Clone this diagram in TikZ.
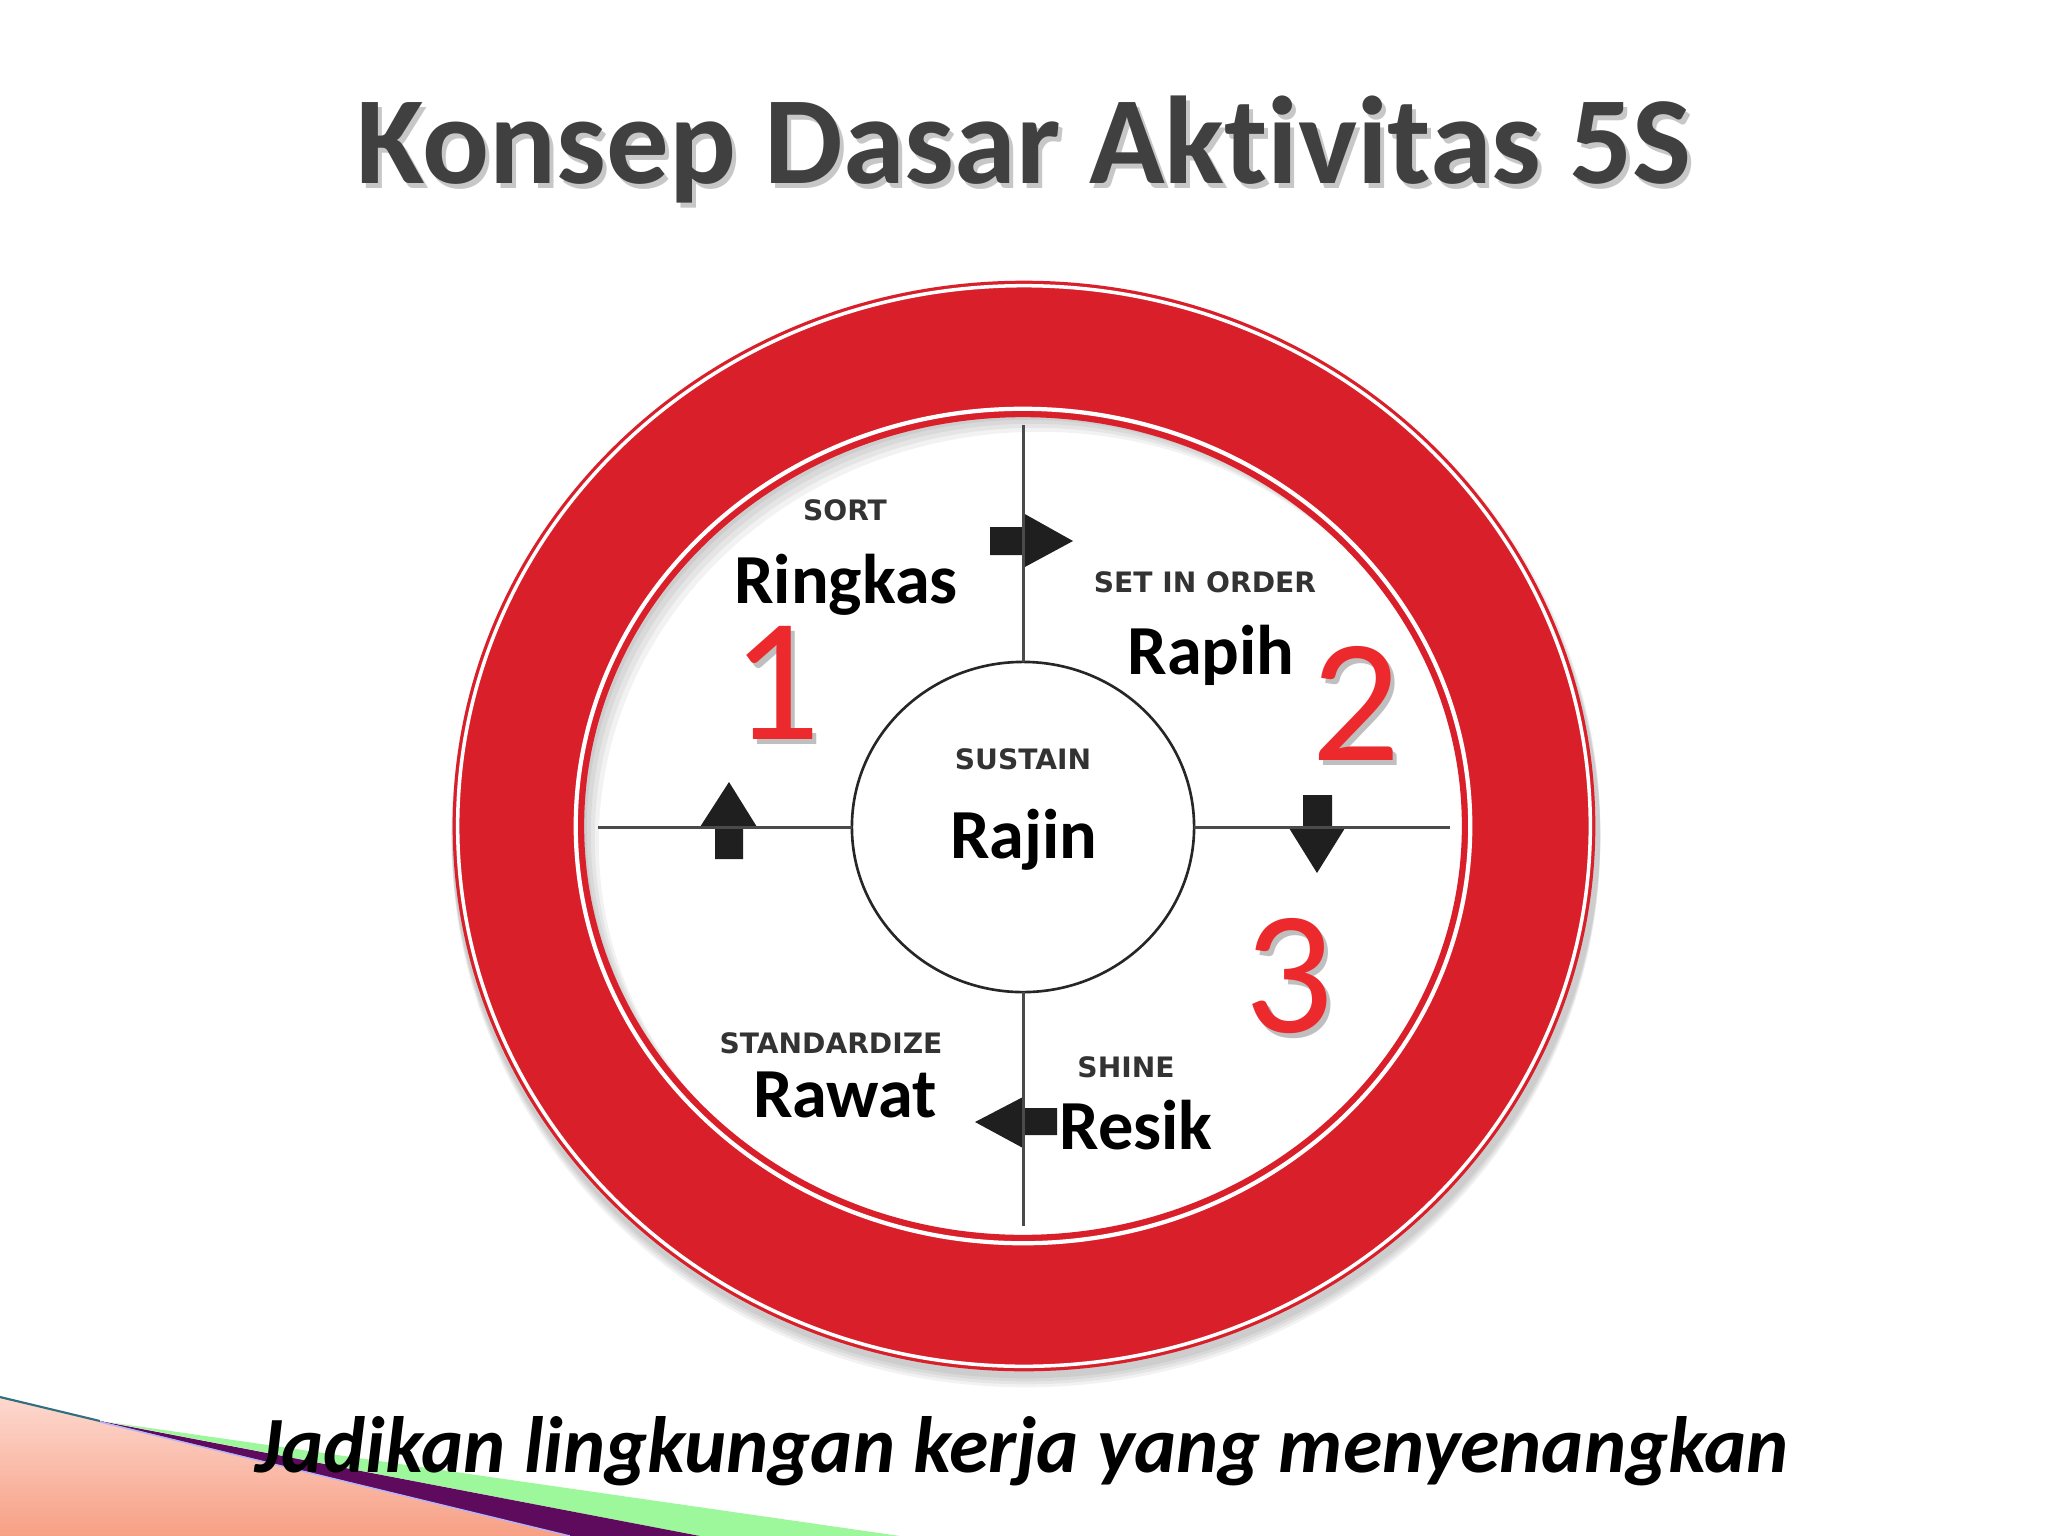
\documentclass[tikz,border=0pt]{standalone}
\usepackage{fontspec}
\setmainfont{Carlito}[Ligatures=NoCommon]
\newfontfamily\tagfont{DejaVu Sans}
\usetikzlibrary{shapes.geometric}
\definecolor{ringred}{HTML}{D91F29}
\definecolor{numred}{HTML}{EC2A2E}
\definecolor{titlegray}{HTML}{404040}
\definecolor{spokegray}{HTML}{4A4A4A}
\definecolor{bandpurple}{HTML}{5E0B5E}
\definecolor{bandgreen}{HTML}{9CF89A}
\definecolor{tealline}{HTML}{2F6F80}
\definecolor{salmonlight}{HTML}{FDD8CE}
\definecolor{salmondark}{HTML}{F7A085}

\begin{document}
\begin{tikzpicture}[x=0.01cm, y=-0.01cm,
  every node/.style = {inner sep=0pt, outer sep=0pt},
  title/.style      = {font=\fontsize{35.5}{42}\selectfont\bfseries,
    anchor=base},
  tag/.style        = {font=\tagfont\bfseries\fontsize{8}{9}\selectfont,
    text=black!80, anchor=base},
  word/.style       = {font=\fontsize{20}{24}\selectfont\bfseries,
    anchor=base},
  digit/.style      = {font=\fontsize{50}{60}\selectfont, anchor=base},
  spoke/.style      = {draw=spokegray, line width=0.85pt},
  blockarrow/.style = {fill=black!88},
  ]
  \useasboundingbox (0,0) rectangle (2048,1536);
  \fill[white] (0,0) rectangle (2048,1536);

  \fill[top color=salmonlight, bottom color=salmondark]
    (0,1398) -- (100,1421) -- (570,1536) -- (0,1536) -- cycle;
  \fill[bandgreen] (108,1422) -- (900,1536) -- (700,1536) -- cycle;
  \fill[bandpurple] (100,1421) -- (700,1536) -- (570,1536) -- cycle;
  \draw[tealline, line width=0.6pt] (0,1397) -- (100,1421);
  \draw[blue!30, line width=0.4pt] (100,1422) -- (570,1536);

  \node[title, text=black!22] at (1028,188) {Konsep Dasar Aktivitas 5S};
  \node[title, text=titlegray] (title) at (1024,183)
    {Konsep Dasar Aktivitas 5S};

  \foreach \d in {3,6,9,12}
    \fill[black, opacity=0.05] (1026,{828+\d})
      ellipse [x radius=5.74cm, y radius=5.47cm];
  \fill[ringred] (1024,826) ellipse [x radius=5.71cm, y radius=5.45cm];
  \draw[white, line width=1pt] (1024,826)
    ellipse [x radius=5.66cm, y radius=5.40cm];
  \draw[white, line width=1.2pt] (1023,826)
    ellipse [x radius=4.47cm, y radius=4.17cm];
  \node[ellipse, fill=white, minimum width=8.8cm, minimum height=8.2cm]
    (disk) at (1023,826) {};
  \begin{scope}
    \clip (1023,826) ellipse [x radius=4.4cm, y radius=4.1cm];
    \foreach \d in {4,8,12,16}
      \fill[black, opacity=0.05, even odd rule] (0,0) rectangle (2048,1536)
        ({1023+\d},{826+\d}) ellipse [x radius=4.4cm, y radius=4.1cm];
  \end{scope}
  \draw[ringred, line width=0.8pt] (disk.center)
    ellipse [x radius=4.4cm, y radius=4.1cm];

  \node[ellipse, draw=black!85, line width=0.75pt,
    minimum width=3.42cm, minimum height=3.30cm] (hub) at (1023,827) {};

  \fill[blockarrow] (990,527) -- (1023,527) -- (1023,513) -- (1073,541)
    -- (1023,568) -- (1023,555) -- (990,555) -- cycle;
  \fill[blockarrow] (715,859) -- (715,827) -- (700,827) -- (729,782)
    -- (757,827) -- (743,827) -- (743,859) -- cycle;
  \fill[blockarrow] (1303,795) -- (1332,795) -- (1332,828) -- (1345,828)
    -- (1317,873) -- (1289,828) -- (1303,828) -- cycle;
  \fill[blockarrow] (1057,1108) -- (1057,1135) -- (1023,1135) -- (1023,1148)
    -- (975,1122) -- (1023,1097) -- (1023,1108) -- cycle;

  \draw[spoke, shorten >=0.09cm] (hub.north) -- (hub.north |- disk.north);
  \draw[spoke, shorten >=0.10cm] (hub.south) -- (hub.south |- disk.south);
  \draw[spoke, shorten >=0.15cm] (hub.west) -- (hub.west -| disk.west);
  \draw[spoke, shorten >=0.13cm] (hub.east) -- (hub.east -| disk.east);

  \node[tag] (sorttag) at (845,520) {SORT};
  \node[word] (ringkas) at (846,603) {Ringkas};
  \node[tag] (settag) at (1205,592) {SET IN ORDER};
  \node[word] (rapih) at (1211,674) {Rapih};
  \node[tag] (sustaintag) at (1023,769) {SUSTAIN};
  \node[word] (rajin) at (1024,858) {Rajin};
  \node[tag] (standtag) at (831,1053) {STANDARDIZE};
  \node[word] (rawat) at (845,1117) {Rawat};
  \node[tag] (shinetag) at (1126,1077) {SHINE};
  \node[word] (resik) at (1136,1149) {Resik};

  \foreach \n/\px/\py in {1/776/739, 2/1356/760, 3/1289/1032} {
    \node[digit, text=black!25] at ({\px+4},{\py+5}) {\n};
    \node[digit, text=numred] (num\n) at (\px,\py) {\n};
  }

  \node[font=\fontsize{22.7}{28}\selectfont\bfseries\itshape, anchor=base]
    (motto) at (1022,1472) {Jadikan lingkungan kerja yang menyenangkan};
\end{tikzpicture}
\end{document}
